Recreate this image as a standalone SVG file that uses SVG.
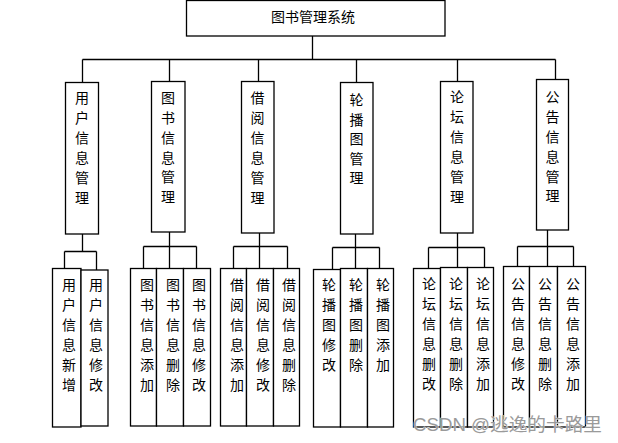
<svg xmlns="http://www.w3.org/2000/svg" width="618" height="443" viewBox="0 0 618 443">
<style>
rect{fill:#fff;stroke:#000;stroke-width:1.3}
.c{fill:none;stroke:#000;stroke-width:1.3}
text{font-family:"Noto Sans CJK SC","Noto Sans CJK JP",sans-serif;font-size:14px;fill:#000;text-anchor:middle}
.wm{font-family:"Liberation Sans","Noto Sans CJK SC",sans-serif;font-size:18px;fill:#9a9a9a;text-anchor:start;stroke:#fff;stroke-width:0.6;paint-order:stroke}
</style>
<rect x="0" y="0" width="618" height="443" style="stroke:none"/>
<g id="connectors">
<path class="c" d="M312.5 36V59.5M82.5 59.5H555.5M82.5 59.5V82M169.5 59.5V81M258.5 59.5V81M356.5 59.5V82M457.5 59.5V81M555.5 59.5V79"/>
<path class="c" d="M82.5 234V251.5M64.5 251.5H96.5M64.5 251.5V268M96.5 251.5V270"/>
<path class="c" d="M169.5 232V246.5M143.5 246.5H196.5M143.5 246.5V268M169.5 246.5V268M196.5 246.5V268"/>
<path class="c" d="M259.5 233V246.5M233.5 246.5H287.5M233.5 246.5V268M259.5 246.5V268M287.5 246.5V268"/>
<path class="c" d="M355.5 234V247.5M332.5 247.5H379.5M332.5 247.5V269M355.5 247.5V268M379.5 247.5V268"/>
<path class="c" d="M457.5 233V247.5M428.5 247.5H484.5M428.5 247.5V268M457.5 247.5V267M484.5 247.5V267"/>
<path class="c" d="M547.5 230V246.5M517.5 246.5H573.5M517.5 246.5V266M547.5 246.5V266M573.5 246.5V266"/>
</g>
<g id="root"><rect x="186.5" y="0.5" width="258.5" height="35.5"/><text x="313" y="22">图书管理系统</text></g>
<g id="m1"><rect x="65.5" y="82.5" width="33" height="151.5"/>
<text x="82" y="103">用</text><text x="82" y="123">户</text><text x="82" y="143">信</text><text x="82" y="163">息</text><text x="82" y="183">管</text><text x="82" y="203">理</text></g>
<g id="m2"><rect x="151.5" y="81.5" width="33.5" height="150.5"/>
<text x="168" y="103">图</text><text x="168" y="123">书</text><text x="168" y="143">信</text><text x="168" y="163">息</text><text x="168" y="182">管</text><text x="168" y="202">理</text></g>
<g id="m3"><rect x="241.5" y="81.5" width="32.5" height="151.5"/>
<text x="257.5" y="103">借</text><text x="257.5" y="123">阅</text><text x="257.5" y="143">信</text><text x="257.5" y="163">息</text><text x="257.5" y="183">管</text><text x="257.5" y="203">理</text></g>
<g id="m4"><rect x="340.5" y="82.5" width="32.5" height="151.5"/>
<text x="356.5" y="105">轮</text><text x="356.5" y="125">播</text><text x="356.5" y="144">图</text><text x="356.5" y="164">管</text><text x="356.5" y="183">理</text></g>
<g id="m5"><rect x="440.5" y="81.5" width="32.5" height="151.5"/>
<text x="457" y="102">论</text><text x="457" y="122">坛</text><text x="457" y="142">信</text><text x="457" y="162">息</text><text x="457" y="182">管</text><text x="457" y="202">理</text></g>
<g id="m6"><rect x="536.5" y="79.5" width="32" height="150.5"/>
<text x="552.5" y="102">公</text><text x="552.5" y="122">告</text><text x="552.5" y="142">信</text><text x="552.5" y="162">息</text><text x="552.5" y="182">管</text><text x="552.5" y="201">理</text></g>
<g id="l1a"><rect x="52.5" y="268.5" width="28.5" height="158.5"/>
<text x="69" y="290">用</text><text x="69" y="310">户</text><text x="69" y="330">信</text><text x="69" y="350">息</text><text x="69" y="370">新</text><text x="69" y="390">增</text></g>
<g id="l1b"><rect x="81" y="270" width="27" height="156"/>
<text x="96" y="290">用</text><text x="96" y="310">户</text><text x="96" y="330">信</text><text x="96" y="350">息</text><text x="96" y="370">修</text><text x="96" y="390">改</text></g>
<g id="l2a"><rect x="130.5" y="268.5" width="26" height="157.5"/>
<text x="147" y="290">图</text><text x="147" y="310">书</text><text x="147" y="330">信</text><text x="147" y="350">息</text><text x="147" y="370">添</text><text x="147" y="390">加</text></g>
<g id="l2b"><rect x="156.5" y="268.5" width="27" height="157.5"/>
<text x="173" y="290">图</text><text x="173" y="310">书</text><text x="173" y="330">信</text><text x="173" y="350">息</text><text x="173" y="370">删</text><text x="173" y="390">除</text></g>
<g id="l2c"><rect x="183.5" y="268.5" width="27" height="157.5"/>
<text x="199" y="290">图</text><text x="199" y="310">书</text><text x="199" y="330">信</text><text x="199" y="350">息</text><text x="199" y="370">修</text><text x="199" y="390">改</text></g>
<g id="l3a"><rect x="220.5" y="268.5" width="26" height="157.5"/>
<text x="237" y="290">借</text><text x="237" y="310">阅</text><text x="237" y="330">信</text><text x="237" y="350">息</text><text x="237" y="370">添</text><text x="237" y="390">加</text></g>
<g id="l3b"><rect x="246.5" y="268.5" width="27" height="157.5"/>
<text x="263" y="290">借</text><text x="263" y="310">阅</text><text x="263" y="330">信</text><text x="263" y="350">息</text><text x="263" y="370">修</text><text x="263" y="390">改</text></g>
<g id="l3c"><rect x="273.5" y="268.5" width="26" height="157.5"/>
<text x="289" y="290">借</text><text x="289" y="310">阅</text><text x="289" y="330">信</text><text x="289" y="350">息</text><text x="289" y="370">删</text><text x="289" y="390">除</text></g>
<g id="l4a"><rect x="313.5" y="269.5" width="27" height="157.5"/>
<text x="329" y="290">轮</text><text x="329" y="310">播</text><text x="329" y="330">图</text><text x="329" y="350">修</text><text x="329" y="370">改</text></g>
<g id="l4b"><rect x="340.5" y="268.5" width="27" height="158.5"/>
<text x="356" y="290">轮</text><text x="356" y="310">播</text><text x="356" y="330">图</text><text x="356" y="350">删</text><text x="356" y="370">除</text></g>
<g id="l4c"><rect x="367.5" y="268.5" width="26" height="158.5"/>
<text x="383" y="290">轮</text><text x="383" y="310">播</text><text x="383" y="330">图</text><text x="383" y="350">添</text><text x="383" y="370">加</text></g>
<g id="l5a"><rect x="413.5" y="268.5" width="27" height="158.5"/>
<text x="429" y="289">论</text><text x="429" y="309">坛</text><text x="429" y="329">信</text><text x="429" y="349">息</text><text x="429" y="369">删</text><text x="429" y="389">改</text></g>
<g id="l5b"><rect x="440.5" y="267.5" width="27" height="159.5"/>
<text x="456" y="289">论</text><text x="456" y="309">坛</text><text x="456" y="329">信</text><text x="456" y="349">息</text><text x="456" y="369">删</text><text x="456" y="389">除</text></g>
<g id="l5c"><rect x="467.5" y="267.5" width="26" height="159.5"/>
<text x="483" y="289">论</text><text x="483" y="309">坛</text><text x="483" y="329">信</text><text x="483" y="349">息</text><text x="483" y="369">添</text><text x="483" y="389">加</text></g>
<g id="l6a"><rect x="503.5" y="266.5" width="26" height="160.5"/>
<text x="518" y="289">公</text><text x="518" y="309">告</text><text x="518" y="329">信</text><text x="518" y="349">息</text><text x="518" y="369">修</text><text x="518" y="389">改</text></g>
<g id="l6b"><rect x="529.5" y="266.5" width="28" height="160.5"/>
<text x="545" y="289">公</text><text x="545" y="309">告</text><text x="545" y="329">信</text><text x="545" y="349">息</text><text x="545" y="369">删</text><text x="545" y="389">除</text></g>
<g id="l6c"><rect x="557.5" y="266.5" width="28" height="160.5"/>
<text x="573" y="289">公</text><text x="573" y="309">告</text><text x="573" y="329">信</text><text x="573" y="349">息</text><text x="573" y="369">添</text><text x="573" y="389">加</text></g>
<text class="wm" x="413" y="431" textLength="189" lengthAdjust="spacingAndGlyphs">CSDN @逃逸的卡路里</text>
</svg>
